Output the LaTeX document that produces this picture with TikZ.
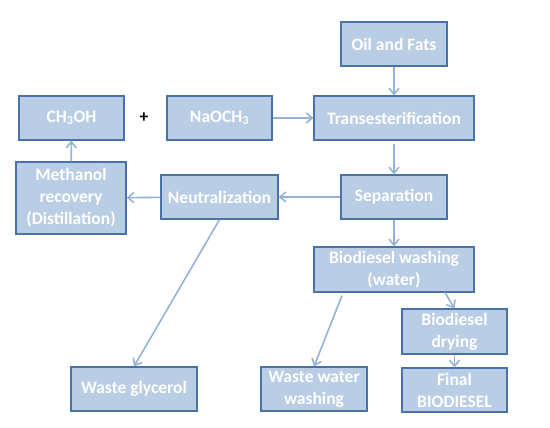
\documentclass[tikz,border=0pt]{standalone}
\usepackage{fontspec}
\setmainfont{Carlito}
\usepackage{tikz}
\usetikzlibrary{arrows.meta,calc}
\definecolor{bdfill} {HTML}{B9CDE5}
\definecolor{bdline} {HTML}{4A72A8}
\definecolor{bdarrow}{HTML}{95B3D7}
\tikzset{
  bdbox/.style={draw=bdline, fill=bdfill, line width=1.2pt, inner sep=1pt,
                font=\fontsize{17.5}{22}\selectfont\bfseries, text=white,
                align=center, minimum height=44pt},
  bdedge/.style={-{Straight Barb[length=6pt,width=10pt]}, draw=bdarrow, line width=1.6pt},
}
\begin{document}
\begin{tikzpicture}[x=1pt,y=-1pt]
  \useasboundingbox (0,0) rectangle (550,428);
  % top row
  \node[bdbox, minimum width=106pt] (oil) at (394,44) {Oil and Fats};
  \node[bdbox, minimum width=105pt] (ch3oh) at (71.5,118) {CH\textsubscript{3}OH};
  \node[font=\fontsize{17.5}{22}\selectfont\bfseries] (plus) at (144,118) {+};
  \node[bdbox, minimum width=105pt] (naoch) at (219.5,118) {NaOCH\textsubscript{3}};
  \node[bdbox, minimum width=160pt] (trans) at (394,118) {Transesterification};
  % middle row
  \node[bdbox, minimum width=110pt, minimum height=72pt] (methanol) at (71,198)
    {Methanol\\recovery\\(Distillation)};
  \node[bdbox, minimum width=117pt] (neutral) at (219.5,197) {Neutralization};
  \node[bdbox, minimum width=106pt] (separ) at (394,197) {Separation};
  \node[bdbox, minimum width=160pt, minimum height=45pt] (washing) at (394,269.5)
    {Biodiesel washing\\(water)};
  \node[bdbox, minimum width=105pt, minimum height=45pt] (drying) at (454.5,331.5)
    {Biodiesel\\drying};
  % bottom row
  \node[bdbox, minimum width=126pt] (glycerol) at (134,389) {Waste glycerol};
  \node[bdbox, minimum width=106pt] (wastewater) at (314,389) {Waste water\\washing};
  \node[bdbox, minimum width=105pt] (final) at (454.5,390) {Final\\BIODIESEL};
  % connectors
  \draw[bdedge] (oil) -- (trans);
  \draw[bdedge] (naoch) -- (trans);
  \draw[bdedge] ($(trans.south)+(0,3)$) -- (separ);
  \draw[bdedge] (separ) -- (neutral);
  \draw[bdedge] (neutral) -- (methanol);
  \draw[bdedge] (methanol) -- (ch3oh);
  \draw[bdedge] (neutral.south) -- (glycerol.north);
  \draw[bdedge] (separ) -- (washing);
  \draw[bdedge] ($(washing.south)+(-52,3)$) -- (wastewater.north);
  \draw[bdedge] ($(washing.south)+(51,0)$) -- (drying.north);
  \draw[bdedge] (drying) -- (final);
\end{tikzpicture}
\end{document}
